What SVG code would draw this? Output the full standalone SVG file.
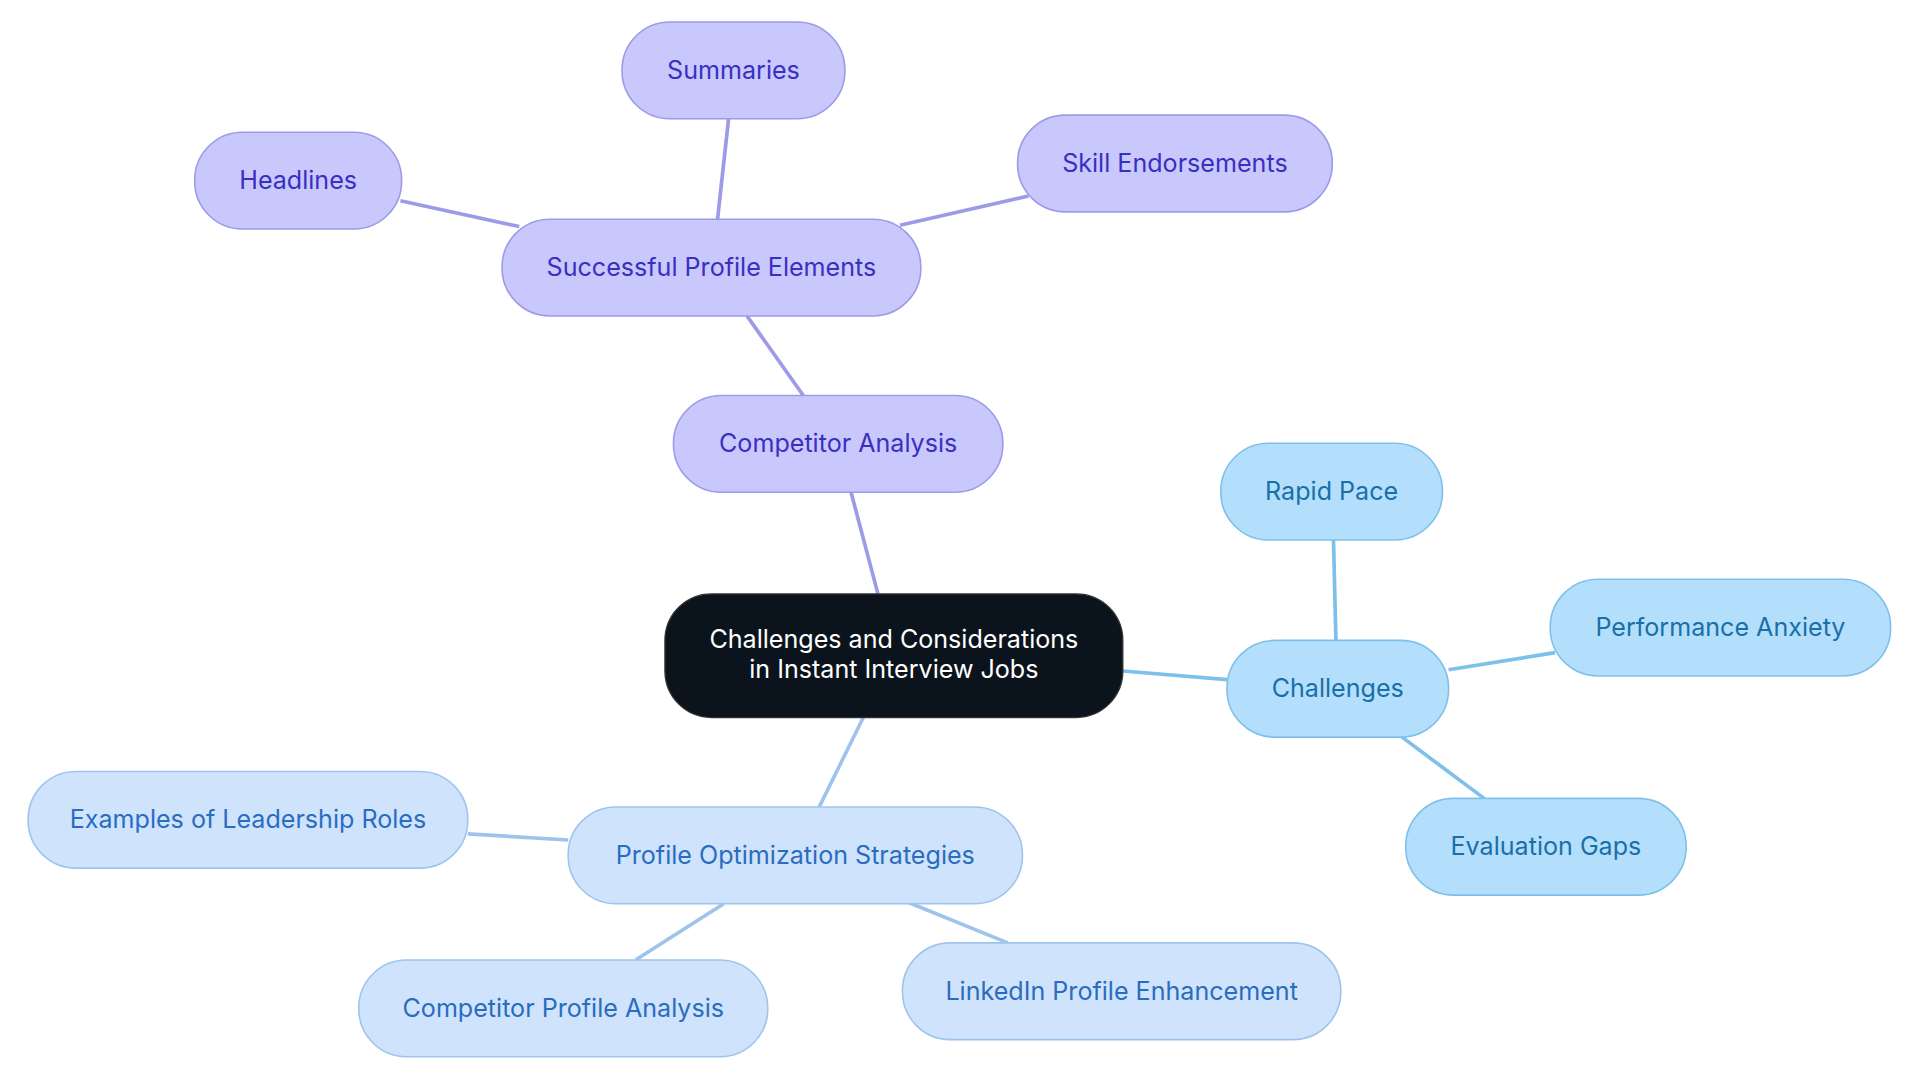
<svg xmlns="http://www.w3.org/2000/svg" width="1920" height="1083" viewBox="0 0 1920 1083">
<style>
text{font-family:Inter,"Liberation Sans",sans-serif;font-size:20.5px;text-anchor:middle;dominant-baseline:central}
.p rect{fill:#c8c8fc;stroke:#9d9ae8;stroke-width:1.3}.p text{fill:#3a2fbf}
.b rect{fill:#b3dffc;stroke:#7fc0ea;stroke-width:1.3}.b text{fill:#1a6fa8}
.l rect{fill:#cfe4fc;stroke:#9fc4ec;stroke-width:1.3}.l text{fill:#2a6cc0}
#edges line{stroke-width:3}
</style>
<rect width="1920" height="1083" fill="#fff"/>
<g transform="scale(1.2245)">
<g id="edges">
<g stroke="#9d9ae8"><line x1="717" y1="485" x2="695" y2="402"/><line x1="656" y1="323" x2="610" y2="258"/><line x1="424" y1="185" x2="327" y2="164"/><line x1="586" y1="179" x2="595" y2="97"/><line x1="735" y1="184" x2="840" y2="160"/></g>
<g stroke="#7fc0ea"><line x1="917" y1="548" x2="1002" y2="555"/><line x1="1091" y1="523" x2="1089" y2="441"/><line x1="1183" y1="547" x2="1270" y2="533"/><line x1="1145" y1="602" x2="1212" y2="652"/></g>
<g stroke="#9fc4ec"><line x1="705" y1="586" x2="669" y2="659"/><line x1="464" y1="686" x2="382" y2="681"/><line x1="591" y1="738" x2="519" y2="784"/><line x1="742" y1="737" x2="823" y2="770"/></g>
</g>
<g id="center"><rect x="543" y="485" width="374" height="101" rx="38" fill="#0b141c" stroke="#333" stroke-width="1"/><text x="730" y="522" fill="#fff">Challenges and Considerations</text><text x="730" y="546" fill="#fff">in Instant Interview Jobs</text></g>
<g id="ca" class="p"><rect x="550" y="323" width="269" height="79" rx="39"/><text x="684.5" y="362">Competitor Analysis</text></g>
<g id="spe" class="p"><rect x="410" y="179" width="342" height="79" rx="39"/><text x="581" y="218">Successful Profile Elements</text></g>
<g id="headlines" class="p"><rect x="159" y="108" width="169" height="79" rx="39"/><text x="243.5" y="147">Headlines</text></g>
<g id="summaries" class="p"><rect x="508" y="18" width="182" height="79" rx="39"/><text x="599" y="57">Summaries</text></g>
<g id="skill" class="p"><rect x="831" y="94" width="257" height="79" rx="39"/><text x="959.5" y="133">Skill Endorsements</text></g>
<g id="challenges" class="b"><rect x="1002" y="523" width="181" height="79" rx="39"/><text x="1092.5" y="562">Challenges</text></g>
<g id="rapid" class="b"><rect x="997" y="362" width="181" height="79" rx="39"/><text x="1087.5" y="401">Rapid Pace</text></g>
<g id="perf" class="b"><rect x="1266" y="473" width="278" height="79" rx="39"/><text x="1405" y="512">Performance Anxiety</text></g>
<g id="eval" class="b"><rect x="1148" y="652" width="229" height="79" rx="39"/><text x="1262.5" y="691">Evaluation Gaps</text></g>
<g id="pos" class="l"><rect x="464" y="659" width="371" height="79" rx="39"/><text x="649.5" y="698">Profile Optimization Strategies</text></g>
<g id="examples" class="l"><rect x="23" y="630" width="359" height="79" rx="39"/><text x="202.5" y="669">Examples of Leadership Roles</text></g>
<g id="cpa" class="l"><rect x="293" y="784" width="334" height="79" rx="39"/><text x="460" y="823">Competitor Profile Analysis</text></g>
<g id="linkedin" class="l"><rect x="737" y="770" width="358" height="79" rx="39"/><text x="916" y="809">LinkedIn Profile Enhancement</text></g>
</g>
</svg>
